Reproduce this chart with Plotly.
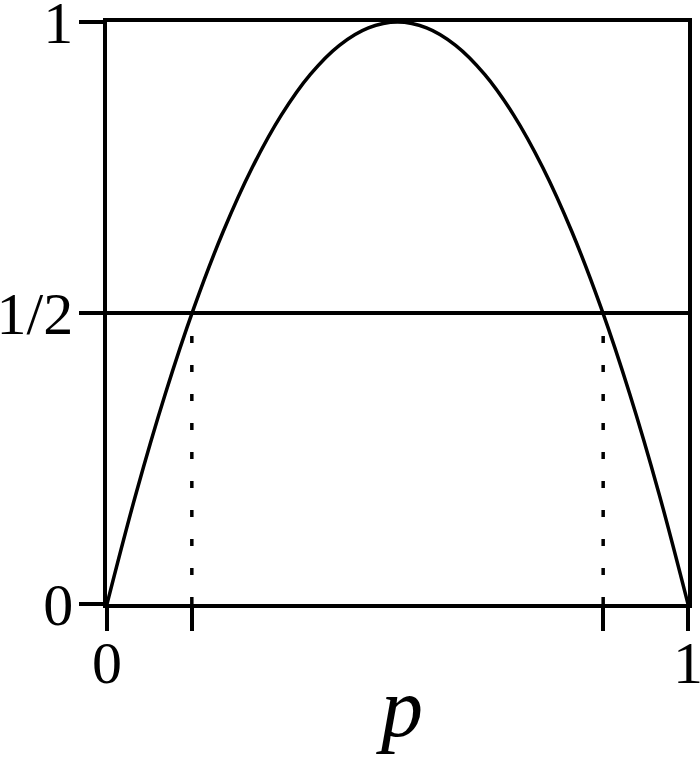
import plotly.graph_objects as go

# values
p_vals = [0.0, 0.05, 0.10, 0.15, 0.20, 0.25, 0.30, 0.35, 0.40, 0.45, 0.50,
          0.55, 0.60, 0.65, 0.70, 0.75, 0.80, 0.85, 0.90, 0.95, 1.0]
h_vals = [0.0, 0.19, 0.36, 0.51, 0.64, 0.75, 0.84, 0.91, 0.96, 0.99, 1.0,
          0.99, 0.96, 0.91, 0.84, 0.75, 0.64, 0.51, 0.36, 0.19, 0.0]
cross_p = [0.146, 0.854]   # where the curve meets 1/2
half_level = 0.5

x_ticks = [0, 0.146, 0.854, 1]
x_labels = ["0", "", "", "1"]
y_ticks = [0, 0.5, 1]
y_labels = ["0", "1/2", "1"]

fig = go.Figure()

# dotted drops from the 1/2 crossings
for cp in cross_p:
    fig.add_trace(go.Scatter(
        x=[cp, cp], y=[0, half_level], mode="lines",
        line=dict(color="black", width=3.5, dash="7px,22px"),
        hoverinfo="skip"))

fig.add_trace(go.Scatter(
    x=p_vals, y=h_vals, mode="lines",
    line=dict(color="black", width=3.5, shape="spline", smoothing=1.0),
    hoverinfo="skip"))

serif = "Liberation Serif, Times New Roman, serif"

fig.add_annotation(
    text="<i>p</i>", xref="paper", yref="paper", x=0.504, y=-0.095,
    xanchor="center", yanchor="top", showarrow=False,
    font=dict(family=serif, size=84, color="black"))

fig.update_layout(
    width=700, height=760,
    margin=dict(l=107, r=12, t=22, b=156, autoexpand=False),
    paper_bgcolor="white", plot_bgcolor="white",
    showlegend=False,
    font=dict(family=serif, color="black", size=60),
    xaxis=dict(
        range=[0, 1], tickvals=x_ticks, ticktext=x_labels,
        ticks="outside", ticklen=23, tickwidth=3.5, tickcolor="black",
        showline=True, linewidth=3.5, linecolor="black", mirror=True,
        showgrid=False, zeroline=False, automargin=False,
        ticklabelstandoff=-20, ticklabeloverflow="allow",
        tickfont=dict(family=serif, size=60),
    ),
    yaxis=dict(
        range=[0, 1], tickvals=y_ticks, ticktext=y_labels,
        ticks="outside", ticklen=24, tickwidth=3.5, tickcolor="black",
        showline=True, linewidth=3.5, linecolor="black", mirror=True,
        showgrid=True, gridcolor="black", gridwidth=3.5, zeroline=False,
        automargin=False, ticklabelstandoff=-6, ticklabeloverflow="allow",
        tickfont=dict(family=serif, size=60),
    ),
)

# page body has an 8px default margin; drop it so the figure sits at 0,0
fig.write_html("out.html", config={"displayModeBar": False},
               post_script="document.body.style.margin='0';")
